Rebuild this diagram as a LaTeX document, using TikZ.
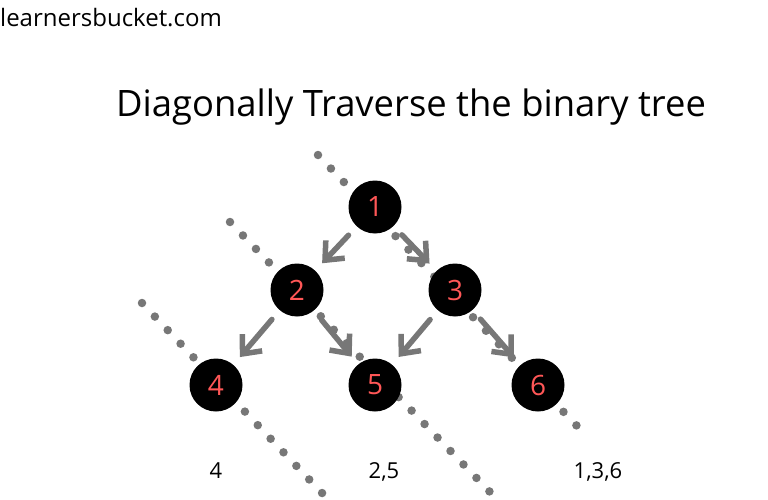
\documentclass[tikz,border=0pt]{standalone}
\usepackage{fontspec}
\setmainfont{Open Sans}
\usepackage{xcolor}
\usepackage{tikz}
\usetikzlibrary{arrows.meta,positioning}
\definecolor{dotgray}{HTML}{777777}
\definecolor{numred}{HTML}{FF5757}

\begin{document}
\begin{tikzpicture}[
  x=1pt, y=-1pt,
  tnode/.style={circle,fill=black,inner sep=0pt,minimum size=53pt,
                text=numred,font=\fontsize{28}{30}\selectfont},
  diag/.style={draw=dotgray,line width=8.5pt,line cap=round,
               dash pattern=on 0pt off 18.7pt},
  arr/.style={draw=dotgray,line width=5.5pt,line cap=round,
              -{Straight Barb[length=15pt,width=26pt,line width=5.5pt]},
              shorten <=12pt,shorten >=10pt},
  lab/.style={inner sep=0pt,anchor=base,font=\fontsize{22}{26}\selectfont}
]
  \useasboundingbox (0,0) rectangle (768,500);

  \node[inner sep=0pt,anchor=base west,font=\fontsize{24}{28}\selectfont]
    (site) at (0,27) {learnersbucket.com};
  \node[inner sep=0pt,anchor=base,font=\fontsize{36.4}{40}\selectfont]
    (title) at (411,117) {Diagonally Traverse the binary tree};

  % ends of the diagonals
  \coordinate (s1) at (318,155);
  \coordinate (e1) at (577,426);
  \coordinate (s2) at (230,222);
  \coordinate (e2) at (490,492);
  \coordinate (s3) at (142,303);
  \coordinate (e3) at (323,494);

  \draw[diag] (s1) -- (e1);
  \draw[diag] (s2) -- (e2);
  \draw[diag] (s3) -- (e3);

  % tree
  \node[tnode] (n1) at (375,207) {1};
  \node[tnode] (n2) at (297,290) {2};
  \node[tnode] (n3) at (455,290) {3};
  \node[tnode] (n4) at (216,385) {4};
  \node[tnode] (n5) at (375,385) {5};
  \node[tnode] (n6) at (538,385) {6};

  \draw[arr] (n1) -- (n2);
  \draw[arr] (n1) -- (n3);
  \draw[arr] (n2) -- (n4);
  \draw[arr] (n2) -- (n5);
  \draw[arr] (n3) -- (n5);
  \draw[arr] (n3) -- (n6);

  % results
  \node[lab] (r1) at (216,478) {4};
  \node[lab] (r2) at (384,478) {2,5};
  \node[lab] (r3) at (598,478) {1,3,6};
\end{tikzpicture}
\end{document}
